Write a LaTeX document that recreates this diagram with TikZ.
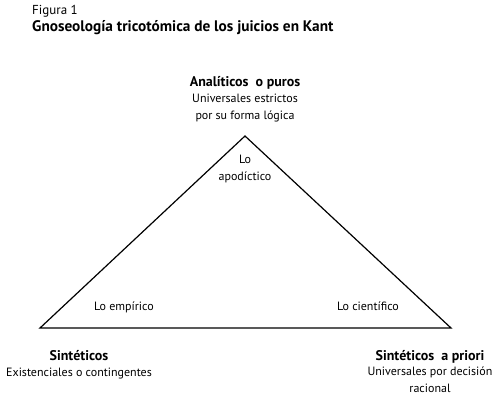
\documentclass[tikz,border=0pt]{standalone}
\usepackage{fontspec}
\setmainfont{PT Sans}
\begin{document}
\begin{tikzpicture}[x=1pt,y=-1pt,
  lbl/.style={inner sep=0pt, align=center, font=\fontsize{12}{16.5}\selectfont},
  bl/.style={inner sep=0pt, align=center, font=\fontsize{14}{16.5}\selectfont\bfseries},
  edge/.style={draw=black, line width=1.2pt}]
\useasboundingbox (0,0) rectangle (501,407);
\node[lbl, anchor=base west, font=\fontsize{13}{16}\selectfont] (fig) at (32,14) {Figura 1};
\node[bl, anchor=base west, font=\fontsize{15.3}{18}\selectfont\bfseries] (title) at (32,31) {Gnoseología tricotómica de los juicios en Kant};
\coordinate (A) at (245,136);
\coordinate (L) at (40,328);
\coordinate (R) at (451,328);
\draw[edge, line join=miter] (A) -- (L) -- (R) -- cycle;
\node[bl, anchor=base] (an) at (245,86) {Analíticos\ \ o puros};
\node[lbl, anchor=base] (an2) at (245,119) {Universales estrictos\\por su forma lógica};
\node[lbl, anchor=base] (apo) at (245,180) {Lo\\apodíctico};
\node[lbl, anchor=base] (emp) at (124,310) {Lo empírico};
\node[lbl, anchor=base] (cie) at (368,310) {Lo científico};
\node[bl, anchor=base] (sin) at (79,360) {Sintéticos};
\node[lbl, anchor=base] (sin2) at (79,376) {Existenciales o contingentes};
\node[bl, anchor=base] (sap) at (430,360) {Sintéticos\ \ a priori};
\node[lbl, anchor=base] (sap2) at (430,392) {Universales por decisión\\racional};
\end{tikzpicture}
\end{document}
